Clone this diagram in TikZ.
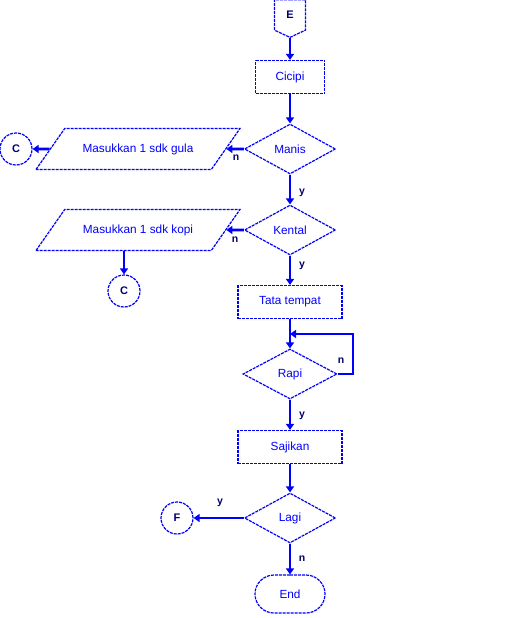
\documentclass[tikz,border=0pt]{standalone}
\usepackage{fontspec}
\setmainfont{Liberation Sans}
\usetikzlibrary{shapes.geometric,shapes.symbols,shapes.misc,arrows.meta}
\definecolor{fblue}{RGB}{0,0,255}
\definecolor{fnavy}{RGB}{0,0,110}
\begin{document}
\begin{tikzpicture}[x=1pt,y=-1pt,
  box/.style={draw=fblue,line width=1.2pt,dash pattern=on 3pt off 1pt,text=fblue,font=\fontsize{11.8}{13}\selectfont,inner sep=0pt,fill=white},
  rectbox/.style={box,rectangle,minimum width=#1,minimum height=33pt},
  dia/.style={box,diamond,minimum width=91pt,minimum height=50pt},
  para/.style={box,trapezium,trapezium left angle=55,trapezium right angle=125,trapezium stretches body=true,minimum width=204pt,minimum height=41pt,inner ysep=15pt},
  conn/.style={box,circle,minimum size=32pt,text=fnavy,font=\bfseries\fontsize{11}{13}\selectfont},
  arr/.style={draw=fblue,line width=2.6pt,-{Triangle[length=6pt,width=8pt]}},
  lbl/.style={text=fnavy,font=\bfseries\fontsize{10.5}{12}\selectfont,inner sep=0pt}]
\useasboundingbox (0,0) rectangle (512,618);
\node[box,signal,signal to=south,signal pointer angle=130,minimum width=31pt,minimum height=32pt,text=fnavy,font=\bfseries\fontsize{11}{13}\selectfont] (E) at (290,15) {E};
\node[rectbox=69pt] (cicipi) at (290,77) {Cicipi};
\node[dia] (manis) at (290,149) {Manis};
\node[para] (gula) at (138,149) {Masukkan 1 sdk gula};
\node[conn] (C1) at (16,149) {C};
\node[dia] (kental) at (290,230) {Kental};
\node[para] (kopi) at (138,230) {Masukkan 1 sdk kopi};
\node[conn] (C2) at (124,291) {C};
\node[rectbox=104pt] (tata) at (290,302) {Tata tempat};
\node[box,diamond,minimum width=94pt,minimum height=50pt] (rapi) at (290,374) {Rapi};
\node[rectbox=104pt] (sajikan) at (290,447) {Sajikan};
\node[dia] (lagi) at (290,518) {Lagi};
\node[conn] (F) at (177,518) {F};
\node[box,rounded rectangle,minimum width=70pt,minimum height=38pt] (end) at (290,594) {End};
\coordinate (loopin) at (290,334);

\draw[arr] (E.south) -- (cicipi.north);
\draw[arr] (cicipi.south) -- (manis.north);
\draw[arr] (manis.west) -- (gula.east);
\draw[arr] (gula.west) -- (C1.east);
\draw[arr] (manis.south) -- (kental.north);
\draw[arr] (kental.west) -- (kopi.east);
\draw[arr] (C2.north |- kopi.south) -- (C2.north);
\draw[arr] (kental.south) -- (tata.north);
\draw[arr] (tata.south) -- (rapi.north);
\draw[arr,line width=2pt] (rapi.east) -- ++(15,0) |- (loopin);
\draw[arr] (rapi.south) -- (sajikan.north);
\draw[arr] (sajikan.south) -- (lagi.north);
\draw[arr] (lagi.west) -- (F.east);
\draw[arr] (lagi.south) -- (end.north);

\node[lbl] (n1) at (236,158) {n};
\node[lbl] (y1) at (302,193) {y};
\node[lbl] (n2) at (235,240) {n};
\node[lbl] (y2) at (302,266) {y};
\node[lbl] (n3) at (341,361) {n};
\node[lbl] (y3) at (302,416) {y};
\node[lbl] (y4) at (220,503) {y};
\node[lbl] (n4) at (302,559) {n};
\end{tikzpicture}
\end{document}
